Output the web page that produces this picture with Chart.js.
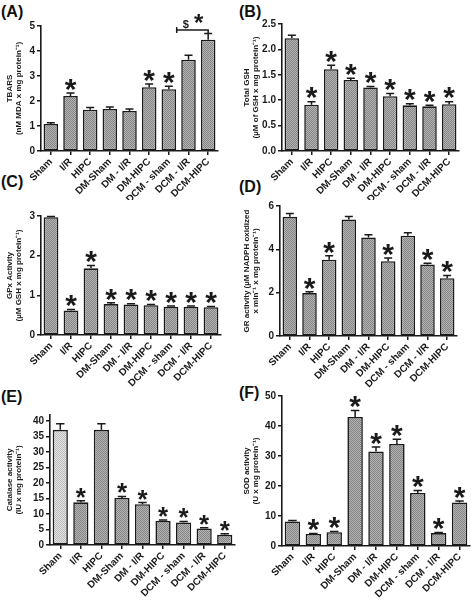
<!DOCTYPE html>
<html><head><meta charset="utf-8">
<script src="https://cdn.jsdelivr.net/npm/chart.js@4.4.0/dist/chart.umd.min.js"></script>
<style>
body{margin:0;background:#fff;width:474px;height:603px;position:relative;overflow:hidden;font-family:"Liberation Sans",Arial,sans-serif;}
.pl{position:absolute;font-weight:bold;font-size:16px;color:#111;line-height:16px;}
canvas{position:absolute;}
</style></head><body>
<div class="pl" style="left:1px;top:4px">(A)</div>
<div class="pl" style="left:239px;top:4px">(B)</div>
<div class="pl" style="left:1px;top:174px">(C)</div>
<div class="pl" style="left:239px;top:179px">(D)</div>
<div class="pl" style="left:1px;top:389px">(E)</div>
<div class="pl" style="left:239px;top:385px">(F)</div>
<canvas id="cA" width="237" height="200" style="left:0;top:0"></canvas>
<canvas id="cB" width="237" height="200" style="left:237px;top:0"></canvas>
<canvas id="cC" width="237" height="205" style="left:0;top:195px"></canvas>
<canvas id="cD" width="237" height="205" style="left:237px;top:195px"></canvas>
<canvas id="cE" width="237" height="203" style="left:0;top:400px"></canvas>
<canvas id="cF" width="237" height="218" style="left:237px;top:385px"></canvas>
<script>
const categories = ["Sham","I/R","HIPC","DM-Sham","DM - I/R","DM-HIPC","DCM - sham","DCM - I/R","DCM-HIPC"];

const tbars    = [1.08, 2.20, 1.65, 1.68, 1.60, 2.55, 2.47, 3.65, 4.45];
const tbarsErr = [0.05, 0.12, 0.09, 0.08, 0.08, 0.13, 0.12, 0.18, 0.25];
const tbarsSig = [0, 1, 0, 0, 0, 1, 1, 0, 0];

const gsh    = [2.22, 0.91, 1.61, 1.40, 1.25, 1.08, 0.90, 0.88, 0.92];
const gshErr = [0.06, 0.06, 0.08, 0.03, 0.02, 0.05, 0.03, 0.02, 0.05];
const gshSig = [0, 1, 1, 1, 1, 1, 1, 1, 1];

const gpx    = [2.97, 0.62, 1.68, 0.78, 0.77, 0.75, 0.71, 0.71, 0.70];
const gpxErr = [0.02, 0.02, 0.07, 0.03, 0.02, 0.02, 0.02, 0.02, 0.02];
const gpxSig = [0, 1, 1, 1, 1, 1, 1, 1, 1];

const gr    = [5.50, 1.98, 3.52, 5.38, 4.55, 3.45, 4.63, 3.30, 2.67];
const grErr = [0.15, 0.06, 0.18, 0.13, 0.12, 0.15, 0.13, 0.06, 0.12];
const grSig = [0, 1, 1, 0, 0, 1, 0, 1, 1];

const catalase    = [37.2, 13.8, 37.2, 15.2, 13.2, 7.8, 7.3, 5.3, 3.3];
const catalaseErr = [2.0, 0.5, 2.0, 0.5, 0.5, 0.3, 0.3, 0.3, 0.3];
const catalaseSig = [0, 1, 0, 1, 1, 1, 1, 1, 1];

const sod    = [8.2, 4.0, 4.6, 43.0, 31.5, 34.0, 17.7, 4.3, 14.5];
const sodErr = [0.3, 0.2, 0.2, 2.2, 1.5, 1.6, 0.8, 0.2, 0.5];
const sodSig = [0, 1, 1, 1, 1, 1, 1, 1, 1];

const FONT = "'Liberation Sans', Arial, sans-serif";
const INK = '#1a1a1a';

function makePattern(c1, c2) {
  const pc = document.createElement('canvas');
  pc.width = 2; pc.height = 2;
  const g = pc.getContext('2d');
  g.fillStyle = c1; g.fillRect(0,0,2,2);
  g.fillStyle = c2; g.fillRect(0,0,1,1); g.fillRect(1,1,1,1);
  return g.createPattern(pc, 'repeat');
}

function makeChart(p) {
  const cv = document.getElementById(p.id);
  const ctx = cv.getContext('2d');
  const dark = makePattern('#b4b4b4', '#848484');
  const light = makePattern('#e2e2e2', '#bdbdbd');
  const bg = p.values.map((v, i) => (p.light && p.light[i]) ? light : dark);
  const W = cv.width, H = cv.height;
  const extra = {
    id: 'extra' + p.id,
    afterDatasetsDraw(chart) {
      const meta = chart.getDatasetMeta(0);
      const ys = chart.scales.y, xs = chart.scales.x;
      const c = chart.ctx;
      c.save();
      c.strokeStyle = INK; c.fillStyle = INK; c.lineWidth = 1.5;
      meta.data.forEach((bar, i) => {
        const top = ys.getPixelForValue(p.values[i] + p.err[i]);
        const cap = bar.width * 0.55;
        c.beginPath();
        c.moveTo(bar.x, bar.y); c.lineTo(bar.x, top);
        c.moveTo(bar.x - cap/2, top); c.lineTo(bar.x + cap/2, top);
        c.stroke();
        if (p.sig[i]) {
          c.font = 'bold ' + p.star + 'px ' + FONT;
          c.textAlign = 'center'; c.textBaseline = 'alphabetic';
          c.fillText('*', bar.x, top + p.star * 0.19);
        }
      });
      if (p.bracket) {
        const b = p.bracket;
        const x1 = xs.getPixelForValue(b.from), x2 = meta.data[b.to].x;
        const yb = ys.getPixelForValue(b.value);
        const capTop = ys.getPixelForValue(p.values[b.to] + p.err[b.to]);
        c.beginPath();
        c.moveTo(x1, yb + 3); c.lineTo(x1, yb - 3);
        c.moveTo(x1, yb); c.lineTo(x2, yb); c.lineTo(x2, capTop);
        c.stroke();
        c.textAlign = 'center'; c.textBaseline = 'alphabetic';
        c.font = 'bold 11px ' + FONT;
        c.fillText(b.text[0], x1 + 9, yb - 2);
        c.font = 'bold 24px ' + FONT;
        c.fillText(b.text[1], x1 + 22, yb - 4 + 24 * 0.19);
      }
      c.restore();
    }
  };
  new Chart(ctx, {
    type: 'bar',
    data: {
      labels: categories,
      datasets: [{
        data: p.values,
        backgroundColor: bg,
        borderColor: INK,
        borderWidth: 1.6,
        borderSkipped: false,
        categoryPercentage: 0.74,
        barPercentage: 1
      }]
    },
    options: {
      responsive: false,
      animation: false,
      devicePixelRatio: 1,
      layout: { padding: { left: 0, right: W - p.area.r, top: p.area.t, bottom: 0 } },
      plugins: { legend: { display: false }, tooltip: { enabled: false } },
      scales: {
        x: {
          offset: true,
          grid: { display: true, drawOnChartArea: false, drawTicks: true, tickLength: 4, color: INK, lineWidth: 1.5, offset: false },
          border: { display: true, color: INK, width: 1.6 },
          ticks: { maxRotation: 45, minRotation: 45, autoSkip: false, color: INK, padding: 1, font: { family: FONT, size: 10, weight: 'bold' } },
          afterFit(s) { s.height = H - p.area.b; s.paddingLeft = 0; s.paddingRight = 0; }
        },
        y: {
          min: p.min, max: p.max,
          grid: { display: true, drawOnChartArea: false, drawTicks: true, tickLength: 4, color: INK, lineWidth: 1.5 },
          border: { display: true, color: INK, width: 1.6 },
          ticks: {
            color: INK, padding: 2,
            font: { family: FONT, size: 10, weight: 'bold' },
            callback: (v) => p.dec ? Number(v).toFixed(p.dec) : v
          },
          afterBuildTicks(s) {
            const t = [];
            const n = Math.floor((p.max - p.min) / p.step + 1e-9);
            for (let k = 0; k <= n; k++) t.push({ value: +(p.min + k * p.step).toFixed(6) });
            s.ticks = t;
          },
          title: { display: true, text: p.title, color: INK, padding: { top: 5, bottom: 0 }, font: { family: FONT, size: 8, weight: 'bold', lineHeight: 1.15 } },
          afterFit(s) { s.width = p.area.l; s.paddingTop = 0; s.paddingBottom = 0; }
        }
      }
    },
    plugins: [extra]
  });
}

makeChart({ id: 'cA', values: tbars, err: tbarsErr, sig: tbarsSig, min: 0, max: 5, step: 1, star: 30,
  title: ['TBARS', '(nM MDA x mg protein\u207B\u00B9)'], area: { l: 41, r: 218, t: 26, b: 151 },
  bracket: { from: 6.4, to: 8, value: 4.84, text: ['$', '*'] } });
makeChart({ id: 'cB', values: gsh, err: gshErr, sig: gshSig, min: 0, max: 2.5, step: 0.5, dec: 1, star: 30,
  title: ['Total GSH', '(\u00B5M of GSH x mg protein\u207B\u00B9)'], area: { l: 45, r: 222, t: 24, b: 151 } });
makeChart({ id: 'cC', values: gpx, err: gpxErr, sig: gpxSig, min: 0, max: 3, step: 1, star: 30,
  title: ['GPx Activity', '(\u00B5M GSH x mg protein\u207B\u00B9)'], area: { l: 41, r: 221, t: 21, b: 140 } });
makeChart({ id: 'cD', values: gr, err: grErr, sig: grSig, min: 0, max: 6, step: 2, star: 30,
  title: ['GR activity (\u00B5M NADPH oxidized', 'x min\u207B\u00B9 x mg protein\u207B\u00B9)'], area: { l: 43, r: 220, t: 11, b: 141 } });
makeChart({ id: 'cE', values: catalase, err: catalaseErr, sig: catalaseSig, min: 0, max: 42, step: 5, star: 26, light: [1,0,0,0,0,0,0,0,0],
  title: ['Catalase activity', '(IU x mg protein\u207B\u00B9)'], area: { l: 50, r: 235, t: 15, b: 145 } });
makeChart({ id: 'cF', values: sod, err: sodErr, sig: sodSig, min: 0, max: 50, step: 10, star: 30,
  title: ['SOD activity', '(U x mg protein\u207B\u00B9)'], area: { l: 45, r: 233, t: 11, b: 161 } });
</script>
</body></html>
